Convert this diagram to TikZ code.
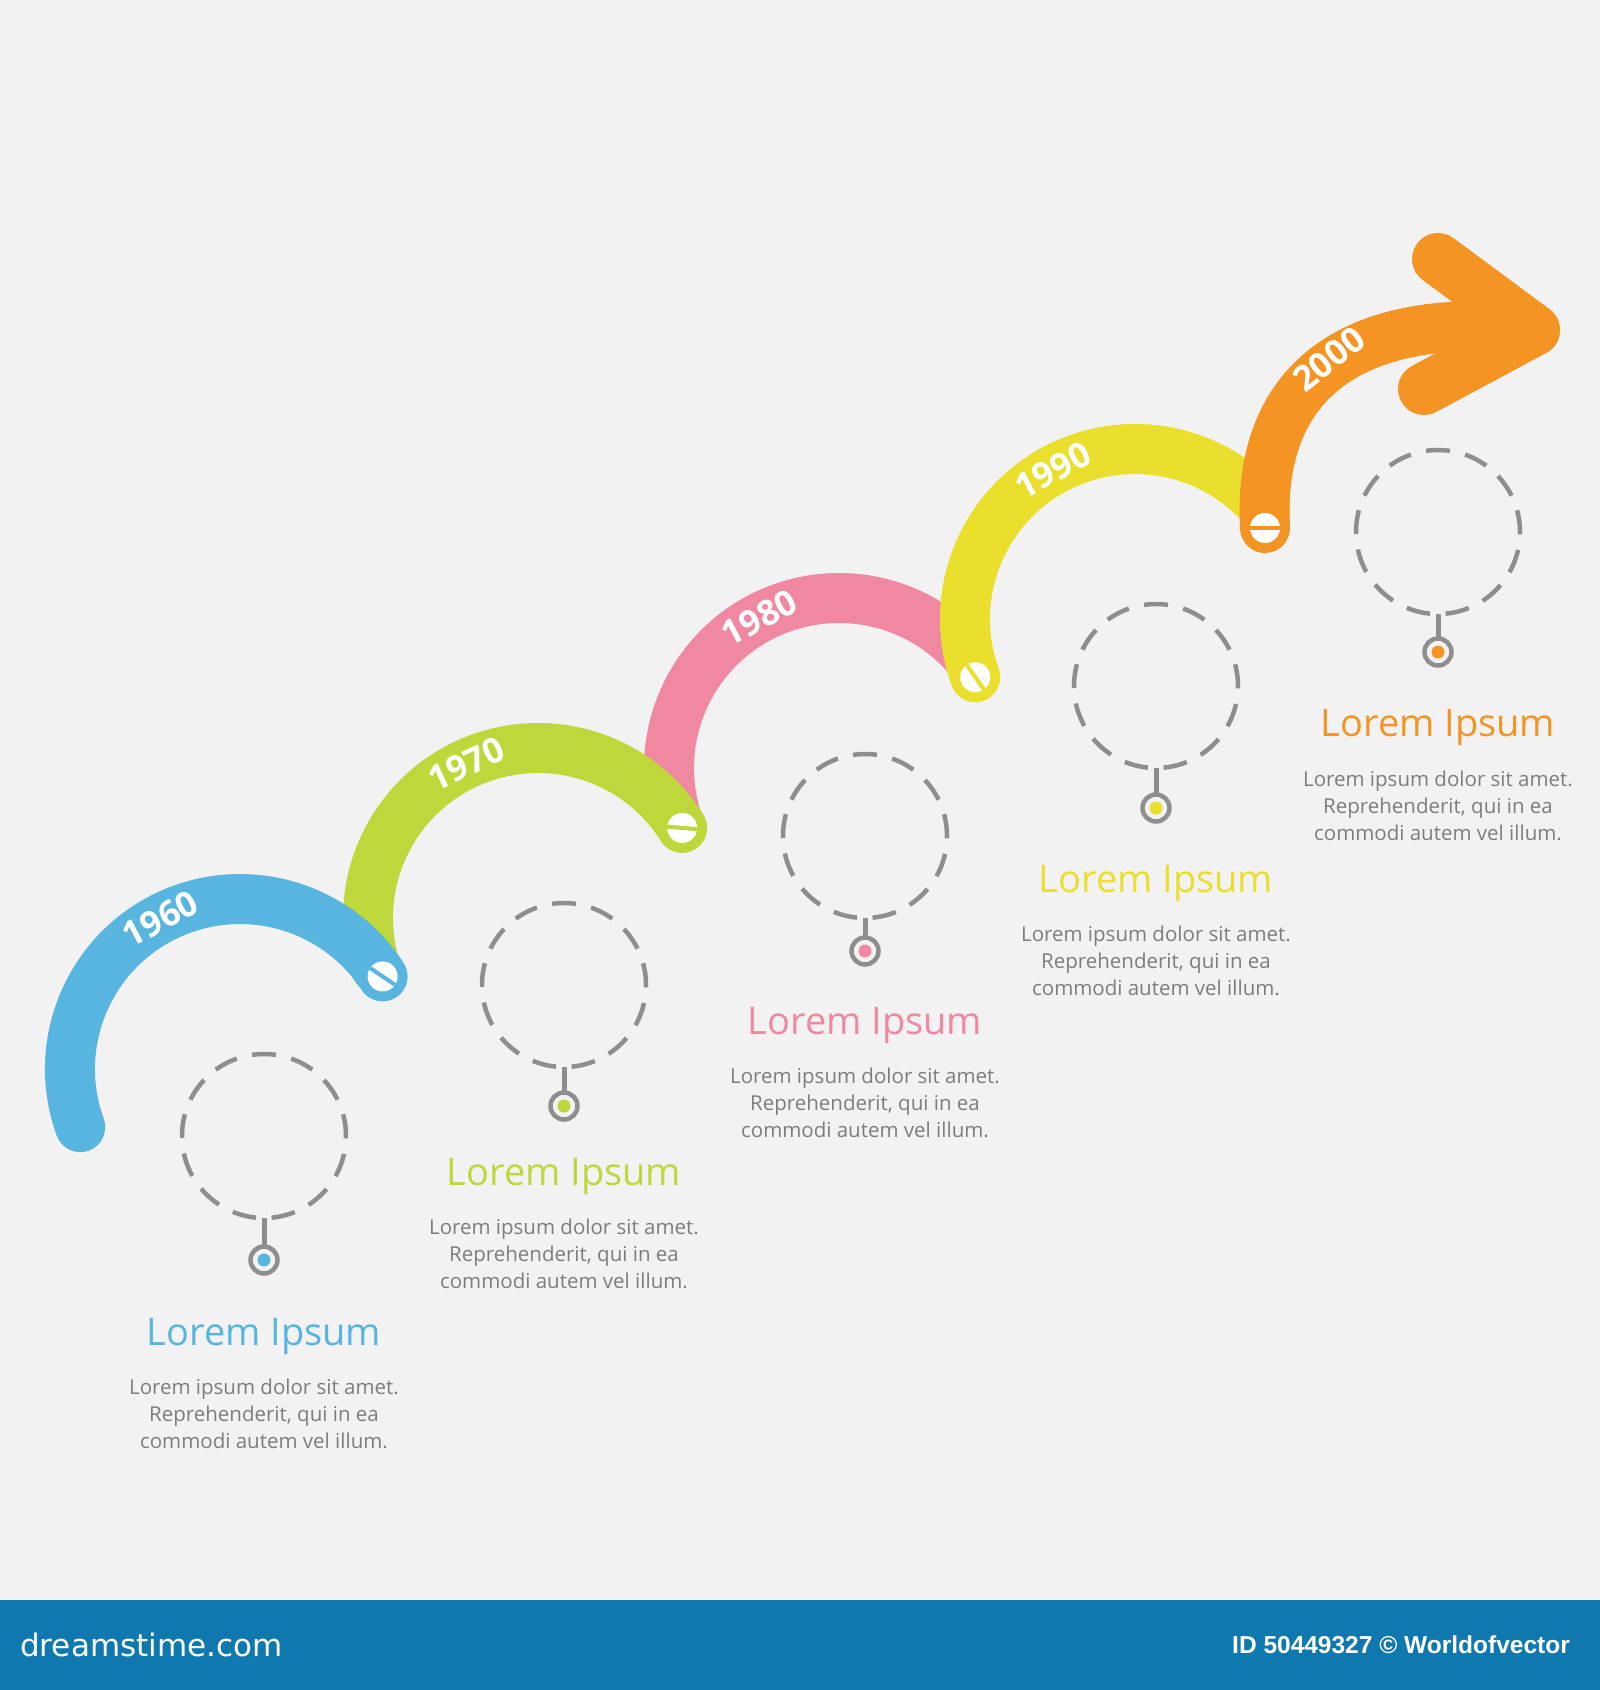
\documentclass[tikz,border=0pt]{standalone}
\usepackage{fontspec}
\setmainfont{Open Sans}
\newfontfamily\logofont{DejaVu Sans}
\newfontfamily\creditfont{Liberation Sans}
\usetikzlibrary{calc}
\definecolor{bgc}{HTML}{F2F2F2}
\definecolor{barblue}{HTML}{0F78AF}
\definecolor{cblue}{HTML}{57B5DF}
\definecolor{cgreen}{HTML}{BED73A}
\definecolor{cpink}{HTML}{F088A2}
\definecolor{cyellow}{HTML}{E9DF2C}
\definecolor{corange}{HTML}{F39423}
\definecolor{dgrey}{HTML}{8E8E8E}
\definecolor{bodygrey}{HTML}{7D7D7D}
\begin{document}
\begin{tikzpicture}[x=1pt,y=-1pt,
  band/.style={draw=#1, line width=50pt, line cap=round, line join=round},
  dcirc/.style={circle, draw=dgrey, line width=4.5pt, minimum size=164pt, inner sep=0pt, outer sep=0pt, dash pattern=on 24pt off 15.6pt, dash phase=2pt},
  ring/.style={circle, draw=dgrey, fill=bgc, line width=4.5pt, minimum size=27pt, inner sep=0pt, outer sep=0pt},
  dot/.style={circle, fill=#1, minimum size=13pt, inner sep=0pt},
  stem/.style={draw=dgrey, line width=5pt},
  screw/.style={circle, fill=white, minimum size=30pt, inner sep=0pt, outer sep=0pt},
  slot/.style={draw=#1, line width=4pt},
  ttl/.style={text=#1, font=\fontsize{38}{40}\selectfont, anchor=base, inner sep=0pt},
  bodytxt/.style={text=bodygrey, font=\fontsize{20.5}{27}\selectfont, align=center, anchor=base, inner sep=0pt},
  yr/.style={font=\bfseries\fontsize{35}{35}\selectfont, inner sep=0pt, text=white}
]
\fill[bgc] (0,0) rectangle (1600,1690);
\useasboundingbox (0,0) rectangle (1600,1690);

% bottom bar
\fill[barblue] (0,1600) rectangle (1600,1690);
\node[anchor=west, text=white, font=\logofont\fontsize{31}{31}\selectfont, inner sep=0pt] (logo) at (20,1645) {dreamstime.com};
\node[anchor=east, text=white, font=\creditfont\bfseries\fontsize{24.5}{24.5}\selectfont, inner sep=0pt] (credit) at (1570,1645) {ID 50449327 © Worldofvector};

% arcs (drawing order: pink, green, blue, yellow, orange)
\coordinate (bC) at (240,1069);
\coordinate (gC) at (538,918);
\coordinate (pC) at (839,768);
\coordinate (yC) at (1135,619);

\draw[band=cpink] (pC) ++(197:170pt) coordinate (pS) arc[start angle=197, end angle=40, radius=170pt] coordinate (pE);
\draw[band=cgreen] (gC) ++(197:170pt) coordinate (gS) arc[start angle=197, end angle=32, radius=170pt] coordinate (gE);
\draw[band=cblue] (bC) ++(200:170pt) coordinate (bS) arc[start angle=200, end angle=33, radius=170pt] coordinate (bE);
\draw[band=cyellow] (yC) ++(200:170pt) coordinate (yS) arc[start angle=200, end angle=40, radius=170pt] coordinate (yE);

% orange arrow
\coordinate (oS) at (1265,528);
\coordinate (oM) at (1450,327);
\coordinate (oT) at (1534,330);
\coordinate (oA) at (1438,259);
\coordinate (oB) at (1424,389);
\draw[band=corange] (oS) .. controls (1258,400) and (1330,335) .. (oM) -- (oT);
\draw[band=corange, line width=52pt] (oA) -- (oT) -- (oB);

% screws
\node[screw] (s1) at (bE) {};
\draw[slot=cblue] (s1.146) -- (s1.-34);
\node[screw] (s2) at (gE) {};
\draw[slot=cgreen] (s2.175) -- (s2.-5);
\node[screw] (s3) at (yS) {};
\draw[slot=cyellow] (s3.125) -- (s3.-55);
\node[screw] (s4) at (oS) {};
\draw[slot=corange] (s4.180) -- (s4.0);

% years
\node[yr, rotate=28] (y1) at ($(bC)+(118:170pt)$) {1960};
\node[yr, rotate=25] (y2) at ($(gC)+(115:170pt)$) {1970};
\node[yr, rotate=28] (y3) at ($(pC)+(118:170pt)$) {1980};
\node[yr, rotate=28] (y4) at ($(yC)+(119:170pt)$) {1990};
\node[yr, rotate=38] (y5) at (1329,359) {2000};

% dashed circles, stems, rings, titles, texts
\foreach \i/\x/\y/\ry/\col/\ty/\by in {
  1/264/1136/1260/cblue/1345/1448,
  2/564/985/1106/cgreen/1185/1288,
  3/865/836/951/cpink/1034/1137,
  4/1156/686/808/cyellow/892/995,
  5/1438/532/652/corange/736/840}{
  \node[dcirc] (c\i) at (\x,\y) {};
  \node[ring] (r\i) at (\x,\ry) {};
  \draw[stem] (c\i.south) -- (r\i.north);
  \node[dot=\col] (d\i) at (r\i.center) {};
  \node[ttl=\col] (t\i) at (\x,\ty) {Lorem Ipsum};
  \node[bodytxt] (b\i) at (\x,\by) {Lorem ipsum dolor sit amet.\\Reprehenderit, qui in ea\\commodi autem vel illum.};
}
\end{tikzpicture}
\end{document}
